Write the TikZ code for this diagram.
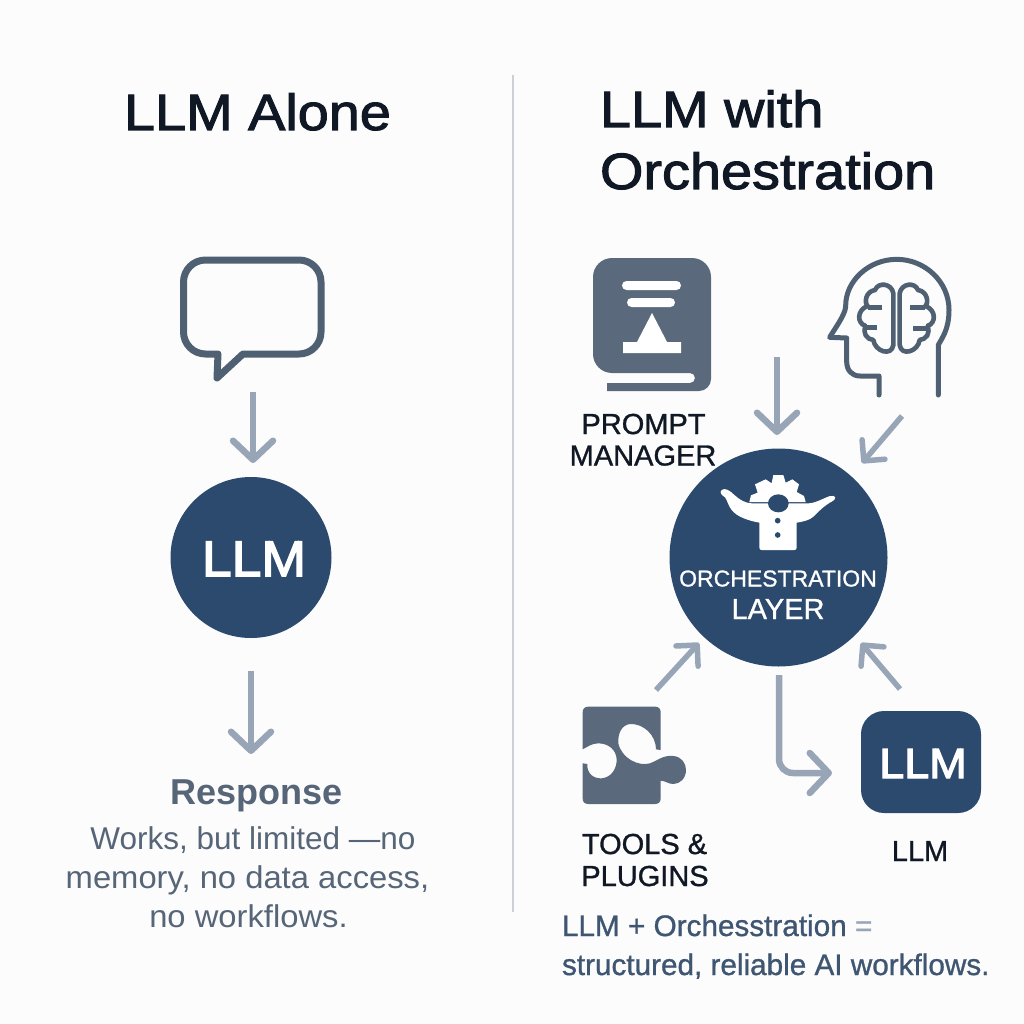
\documentclass[tikz,border=0pt]{standalone}
\usepackage{fontspec}
\setmainfont{Liberation Sans}
\newfontfamily\medfont[FakeBold=2,FakeStretch=1.095]{Liberation Sans}
\newfontfamily\semifont[FakeBold=3,FakeStretch=1.07]{Liberation Sans}
\newfontfamily\bodyfont[FakeStretch=1.04]{Liberation Sans}
\newfontfamily\lightbold[FakeBold=1]{Liberation Sans}
\usetikzlibrary{arrows.meta}
\definecolor{navy}{HTML}{2C4A6E}
\definecolor{slate}{HTML}{5A6A7C}
\definecolor{slatedk}{HTML}{4F6073}
\definecolor{arrowc}{HTML}{98A5B7}
\definecolor{inkc}{HTML}{0F1824}
\definecolor{bodyc}{HTML}{566577}
\definecolor{footc}{HTML}{3F5672}
\definecolor{divc}{HTML}{CDD0D4}
\newcommand{\fs}[1]{\fontsize{#1}{#1}\selectfont}
\tikzset{
  flow/.style={draw=arrowc,line width=6.5pt,line join=round,
    -{Straight Barb[length=19pt,width=40pt,line width=6.5pt,round]}},
  flowsmall/.style={draw=arrowc,line width=5.5pt,line join=round,
    -{Straight Barb[length=15pt,width=30pt,line width=5.5pt,round]}},
  txt/.style={inner sep=0pt,outer sep=0pt,anchor=base},
  title/.style={txt,anchor=base west,text=inkc,font=\medfont\fs{51}},
  lab/.style={txt,text=inkc,font=\lightbold\fs{29}},
  body/.style={txt,text=bodyc,font=\bodyfont\fs{31.5}},
  foot/.style={txt,anchor=base west,text=footc,font=\lightbold\fs{29.7}},
  hub/.style={circle,fill=navy,draw=none,inner sep=0pt,text=white},
  iconline/.style={draw=slatedk,line width=5pt,line join=round,line cap=round},
}
\begin{document}
\begin{tikzpicture}[x=1pt,y=-1pt]
\useasboundingbox (0,0) rectangle (1024,1024);
\fill[white!99!black] (0,0) rectangle (1024,1024);
\draw[divc,line width=1.2pt] (513,75) -- (513,912);

% ---------- left column
\node[title,anchor=base] (tA) at (257.5,130) {LLM Alone};
\draw[draw=slatedk,line width=7pt,line join=round]
  (205,260) -- (299,260) arc[start angle=-90,end angle=0,radius=22] -- (321,332)
  arc[start angle=0,end angle=90,radius=22] -- (243,354) -- (217,378) -- (218,354) -- (205.5,354)
  arc[start angle=90,end angle=180,radius=22] -- (183.5,282)
  arc[start angle=180,end angle=270,radius=22] -- cycle;
\coordinate (a1s) at (253,392);
\coordinate (a1e) at (253,463);
\draw[flow] (a1s) -- (a1e);
\node[hub,minimum size=161pt] (llmA) at (251,557.5) {};
\node[txt,text=white,font=\semifont\fs{50}] (llmAt) at (254,576) {LLM};
\coordinate (a2s) at (251,671);
\coordinate (a2e) at (251,754);
\draw[flow] (a2s) -- (a2e);
\node[txt,text=bodyc,font=\bfseries\fs{36}] (resp) at (256.5,804) {Response};
\node[txt,text=bodyc,font=\fs{31.5}] (b1) at (253,849) {Works, but limited —no};
\node[body] (b2) at (247.5,888) {memory, no data access,};
\node[body] (b3) at (248.5,927) {no workflows.};

% ---------- right column
\node[title] (tB1) at (600,127) {LLM with};
\node[title] (tB2) at (600,189) {Orchestration};

% book
\fill[slate]
  (612,258) -- (692,258) arc[start angle=-90,end angle=0,radius=19] -- (711,379)
  arc[start angle=0,end angle=90,radius=12] -- (607,391) -- (607,383) -- (690,383)
  arc[start angle=90,end angle=-90,radius=5] -- (612,373)
  arc[start angle=90,end angle=180,radius=19] -- (593,277)
  arc[start angle=180,end angle=270,radius=19] -- cycle;
\fill[white,rounded corners=4.5pt] (622,281) rectangle (681,290);
\fill[white,rounded corners=4.5pt] (627,298) rectangle (675,307);
\fill[white] (652,313) -- (637,342) -- (623,342) -- (623,353) -- (681,353) -- (681,342) -- (667,342) -- cycle;

% head with brain
\begin{scope}[shift={(825,250)},x=0.33333pt,y=-0.33333pt]
\draw[iconline]
  (340,435) -- (340,285) .. controls (350,265) and (372,240) .. (372,180)
  .. controls (372,95) and (300,28) .. (215,28)
  .. controls (130,28) and (60,95) .. (62,170)
  .. controls (60,195) and (30,235) .. (14,262)
  -- (65,264) -- (65,335) .. controls (65,360) and (80,378) .. (105,378)
  -- (162,378) -- (162,435);
\draw[iconline,line width=4.6pt]
  (205,285) -- (205,130) .. controls (200,100) and (160,95) .. (150,120)
  .. controls (120,125) and (118,160) .. (128,168)
  .. controls (95,180) and (95,220) .. (122,228)
  .. controls (112,250) and (125,268) .. (145,270)
  .. controls (150,305) and (200,320) .. (205,285);
\draw[iconline,line width=4.6pt]
  (224,285) -- (224,130) .. controls (229,100) and (269,95) .. (279,120)
  .. controls (309,125) and (311,160) .. (301,168)
  .. controls (334,180) and (334,220) .. (307,228)
  .. controls (317,250) and (304,268) .. (284,270)
  .. controls (279,305) and (229,320) .. (224,285);
\draw[iconline,line width=4.6pt,line cap=butt] (130,173) -- (172,173) (118,232) -- (155,232)
  (255,173) -- (299,173) (265,235) -- (307,235);
\end{scope}

% arrows into the orchestration layer
\coordinate (a3s) at (777,357);
\coordinate (a3e) at (777,435);
\draw[flow] (a3s) -- (a3e);
\coordinate (a4s) at (902,416);
\coordinate (a4e) at (862,463);
\draw[flowsmall] (a4s) -- (a4e);

\node[hub,minimum size=218pt] (orch) at (778.5,557.5) {};
\begin{scope}[shift={(715,470)},x=0.33333pt,y=-0.33333pt]
\fill[white] (103,96) -- (108,76) -- (128,68) -- (120,43) -- (152,28) -- (170,40) -- (175,15) -- (205,15)
  -- (212,38) -- (232,28) -- (252,43) -- (245,66) -- (267,78) -- (272,96) -- cycle;
\fill[white] (20,60) .. controls (30,52) and (45,62) .. (58,75)
  .. controls (75,90) and (90,99) .. (110,100) -- (280,100)
  .. controls (300,100) and (325,85) .. (345,78) .. controls (362,75) and (368,85) .. (350,95)
  .. controls (330,105) and (310,125) .. (295,140)
  .. controls (285,150) and (265,155) .. (245,158)
  -- (245,232) .. controls (245,238) and (243,240) .. (238,240)
  -- (140,240) .. controls (135,240) and (133,238) .. (133,232)
  -- (133,158) .. controls (100,152) and (65,140) .. (50,120)
  .. controls (38,105) and (38,92) .. (30,82)
  .. controls (20,75) and (12,68) .. (20,60) -- cycle;
\fill[navy] (190,100) ellipse[x radius=31,y radius=27];
\fill[navy] (188,152) circle[radius=8.5];
\fill[navy] (188,195) circle[radius=8.5];
\end{scope}
\node[txt,text=white,font=\lightbold\fs{23}] (o1) at (778,586.5) {ORCHESTRATION};
\node[txt,text=white,font=\lightbold\fs{29}] (o2) at (778,619) {LAYER};

\coordinate (a5s) at (656,690);
\coordinate (a5e) at (699,643);
\draw[flowsmall] (a5s) -- (a5e);
\coordinate (a6s) at (900,689);
\coordinate (a6e) at (861,643);
\draw[flowsmall] (a6s) -- (a6e);

\node[lab] (pm1) at (643.5,434) {PROMPT};
\node[lab] (pm2) at (643,465.5) {MANAGER};

% puzzle piece
\begin{scope}[shift={(550,660)},x=0.33333pt,y=-0.33333pt]
\fill[slate] (115,140) -- (315,140) .. controls (326,140) and (332,146) .. (332,157)
  -- (332,270) -- (318,268) .. controls (318,225) and (280,190) .. (240,192)
  .. controls (215,195) and (203,220) .. (205,250)
  .. controls (215,295) and (265,320) .. (300,310)
  .. controls (325,300) and (340,285) .. (370,288)
  .. controls (395,290) and (408,310) .. (408,330)
  .. controls (408,355) and (390,372) .. (370,372)
  .. controls (355,372) and (345,362) .. (332,362)
  -- (332,415) .. controls (332,426) and (326,432) .. (315,432)
  -- (115,432) .. controls (104,432) and (98,426) .. (98,415)
  -- (98,310) -- (112,312) .. controls (110,340) and (130,356) .. (155,355)
  .. controls (185,352) and (200,325) .. (200,300)
  .. controls (200,270) and (175,250) .. (145,250)
  .. controls (125,250) and (110,262) .. (98,268)
  -- (98,157) .. controls (98,146) and (104,140) .. (115,140) -- cycle;
\end{scope}
\node[lab] (tp1) at (644.5,854) {TOOLS \&};
\node[lab] (tp2) at (645,886) {PLUGINS};

% elbow arrow
\coordinate (a7s) at (779,675);
\coordinate (a7c) at (779,773);
\coordinate (a7e) at (832,773);
\draw[flow,rounded corners=14pt] (a7s) -- (a7c) -- (a7e);

\node[fill=navy,rounded corners=23pt,minimum width=120pt,minimum height=102pt,inner sep=0pt] (llmB) at (921,762) {};
\node[txt,text=white,font=\semifont\fs{42}] (llmBt) at (923,778) {LLM};
\node[lab] (llmL) at (920,861) {LLM};

\node[foot] (f1) at (562,936) {LLM + Orchesstration \textcolor{arrowc}{=}};
\node[foot] (f2) at (562,975) {structured, reliable AI workflows.};
\end{tikzpicture}
\end{document}
